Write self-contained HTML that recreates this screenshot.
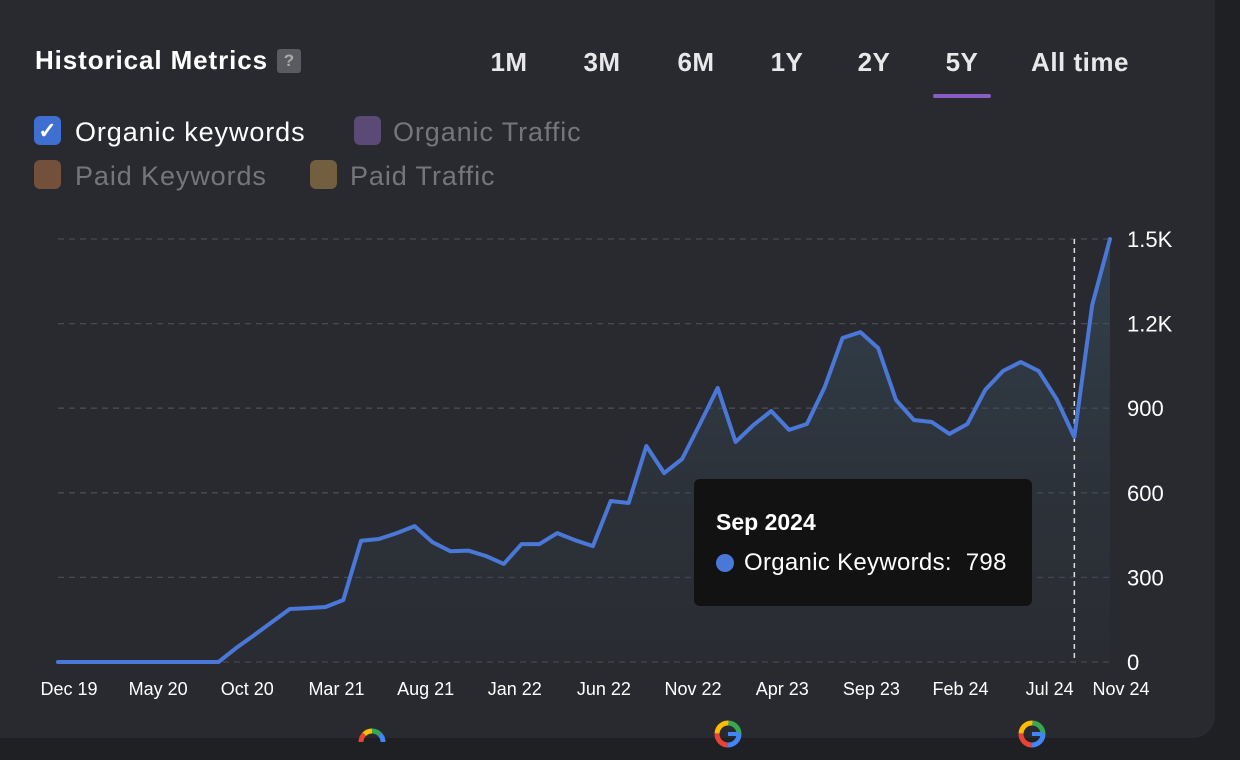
<!DOCTYPE html>
<html><head><meta charset="utf-8">
<style>
html,body{margin:0;padding:0;background:#1f2024;width:1240px;height:760px;overflow:hidden;font-family:"Liberation Sans",sans-serif;}
#card{position:absolute;left:-20px;top:-20px;width:1235px;height:758px;background:#292a2f;border-radius:22px;}
.t{position:absolute;color:#fff;}
.tab{position:absolute;top:47px;font-size:26px;font-weight:bold;color:#e8e8ea;transform:translateX(-50%);letter-spacing:0.5px;}
.cb{position:absolute;width:27px;height:29px;border-radius:6px;}
.lg{position:absolute;font-size:27px;letter-spacing:0.9px;}
</style></head><body>
<div id="card"></div>
<div class="t" style="left:35px;top:45px;font-size:26px;font-weight:bold;letter-spacing:0.9px;">Historical Metrics</div>
<div style="position:absolute;left:277px;top:49px;width:24px;height:24px;background:#5a5b60;border-radius:3px;color:#aaa;font-size:17px;text-align:center;line-height:24px;font-weight:bold;">?</div>
<div class="tab" style="left:509px">1M</div>
<div class="tab" style="left:602px">3M</div>
<div class="tab" style="left:696px">6M</div>
<div class="tab" style="left:787px">1Y</div>
<div class="tab" style="left:874px">2Y</div>
<div class="tab" style="left:962px">5Y</div>
<div class="tab" style="left:1080px">All time</div>
<div style="position:absolute;left:933px;top:94px;width:58px;height:4px;background:#8a5cc7;border-radius:2px;"></div>

<div class="cb" style="left:34px;top:116px;background:#3f6fd1;color:#fff;font-size:22px;text-align:center;line-height:29px;font-weight:bold;">✓</div>
<div class="lg" style="left:75px;top:117px;color:#fff;">Organic keywords</div>
<div class="cb" style="left:354px;top:116px;background:#5b4a75;"></div>
<div class="lg" style="left:393px;top:117px;color:#75767a;">Organic Traffic</div>
<div class="cb" style="left:34px;top:160px;background:#73503c;"></div>
<div class="lg" style="left:75px;top:161px;color:#75767a;">Paid Keywords</div>
<div class="cb" style="left:310px;top:160px;background:#735f40;"></div>
<div class="lg" style="left:350px;top:161px;color:#75767a;">Paid Traffic</div>

<svg id="chart" width="1240" height="760" style="position:absolute;left:0;top:0">
<defs><linearGradient id="g" x1="0" y1="0" x2="0" y2="1"><stop offset="0" stop-color="#3a5566" stop-opacity="0.55"/><stop offset="1" stop-color="#2e3440" stop-opacity="0.2"/></linearGradient></defs>
</svg>

<div style="position:absolute;left:694px;top:479px;width:338px;height:127px;background:#121212;border-radius:6px;">
<div style="position:absolute;left:22px;top:30px;color:#fff;font-size:23px;font-weight:bold;">Sep 2024</div>
<div style="position:absolute;left:22px;top:75px;width:18px;height:18px;border-radius:50%;background:#4a78d8;"></div>
<div style="position:absolute;left:50px;top:70px;color:#fff;font-size:24px;letter-spacing:0.3px;">Organic Keywords:&nbsp; 798</div>
</div>

<script>
const values=[0,0,0,0,0,0,0,0,0,0,50,95,142,188,191,195,220,430,436,457,482,425,393,395,376,348,418,418,457,432,411,571,564,766,670,720,844,972,780,840,890,823,844,975,1149,1170,1113,929,858,851,809,844,965,1032,1064,1032,933,798,1266,1500];
const yTicks=[0,300,600,900,1200,1500];
const yTickLabels=["0","300","600","900","1.2K","1.5K"];
const xLabels=["Dec 19","May 20","Oct 20","Mar 21","Aug 21","Jan 22","Jun 22","Nov 22","Apr 23","Sep 23","Feb 24","Jul 24","Nov 24"];
const xLabelIdx=[0,5,10,15,20,25,30,35,40,45,50,55,59];
const hoverIdx=57;
const NS="http://www.w3.org/2000/svg";
const svg=document.getElementById('chart');
const X=i=>58+i*(1110-58)/(values.length-1);
const Y=v=>662-v*(662-239)/1500;
function mk(t,a){const e=document.createElementNS(NS,t);for(const k in a)e.setAttribute(k,a[k]);svg.appendChild(e);return e;}
yTicks.forEach((v,j)=>{
 const l=mk('line',{x1:58,x2:1110,y1:Y(v),y2:Y(v),stroke:'#4a4b50','stroke-dasharray':'6 5','stroke-width':1.3});
 
 
 const t=mk('text',{x:1127,y:Y(v)+8,fill:'#fff','font-size':22,'font-family':'Liberation Sans, sans-serif'});
 t.textContent=yTickLabels[j];
 
 
});
xLabels.forEach((s,j)=>{
 const t=mk('text',{x:X(xLabelIdx[j])+11,y:695,fill:'#fff','font-size':18,'text-anchor':'middle','font-family':'Liberation Sans, sans-serif'});
 t.textContent=s;
 
 
});
let d=values.map((v,i)=>(i?'L':'M')+X(i).toFixed(1)+' '+Y(v).toFixed(1)).join(' ');
const area=mk('path',{d:d+` L${X(values.length-1)} 662 L58 662 Z`,fill:'url(#g)'});


const vl=mk('line',{x1:X(hoverIdx),x2:X(hoverIdx),y1:239,y2:662,stroke:'#ddd','stroke-dasharray':'5 4','stroke-width':1.5});


const line=mk('path',{d:d,fill:'none',stroke:'#4a78d8','stroke-width':4,'stroke-linejoin':'round','stroke-linecap':'round'});


function gIcon(cx){
 const g=document.createElementNS(NS,'g');svg.appendChild(g);
 
 
 const segs=[['#4285f4',18,51,0],['#ea4335',17,52,-18],['#fbbc05',17,52,-35],['#34a853',17,52,-52]];
 segs.forEach(s=>{const e=document.createElementNS(NS,'circle');
 e.setAttribute('cx',cx);e.setAttribute('cy',734);e.setAttribute('r',11);e.setAttribute('fill','none');e.setAttribute('stroke',s[0]);e.setAttribute('stroke-width',5);e.setAttribute('stroke-dasharray',s[1]+' '+s[2]);e.setAttribute('stroke-dashoffset',s[3]);e.setAttribute('transform',`rotate(0 ${cx} 734)`);g.appendChild(e);});
 const b=document.createElementNS(NS,'rect');b.setAttribute('x',cx);b.setAttribute('y',732);b.setAttribute('width',12);b.setAttribute('height',4);b.setAttribute('fill','#4285f4');g.appendChild(b);
}
gIcon(728);gIcon(1032);
const cols=['#ea4335','#fbbc05','#34a853','#4285f4'];
cols.forEach((c,k)=>{
 const a0=Math.PI*(1-k/4),a1=Math.PI*(1-(k+1)/4),r=11,cx=372,cy=742;
 const p=mk('path',{d:`M${cx+r*Math.cos(a0)} ${cy-r*Math.sin(a0)} A${r} ${r} 0 0 1 ${cx+r*Math.cos(a1)} ${cy-r*Math.sin(a1)}`,fill:'none',stroke:c,'stroke-width':5});
 
 
});
</script>
</body></html>
